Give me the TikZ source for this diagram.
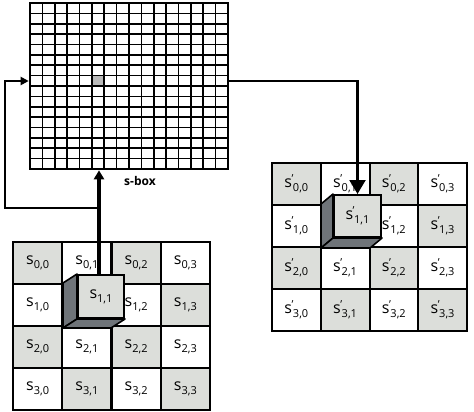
\documentclass[tikz,border=0pt]{standalone}
\usepackage{fontspec}
\setmainfont{Open Sans}
\usetikzlibrary{arrows.meta,calc}
\definecolor{cellgray}{HTML}{DCDEDA}
\definecolor{sidegray}{HTML}{6F7479}
\newcommand{\subf}{\fontsize{11}{11}\selectfont}
\newcommand{\slab}[2]{s\raisebox{-4pt}{\subf #1,#2}}
\newcommand{\slabp}[2]{s\kern-0.5pt\raisebox{4.5pt}{\subf'}\kern-0.5pt\raisebox{-4pt}{\subf #1,#2}}
\begin{document}
\begin{tikzpicture}[x=1pt,y=-1pt,
  cellbox/.style={draw=black,line width=2pt,minimum width=49pt,minimum height=42pt,inner sep=0pt,font=\fontsize{16}{16}\selectfont},
  cubeface/.style={draw=black,line width=2pt,fill=cellgray,inner sep=0pt,font=\fontsize{16}{16}\selectfont},
  cubeside/.style={draw=black,line width=1.6pt,fill=sidegray,line join=round},
  conn/.style={draw=black,line width=2.2pt},
  thickconn/.style={draw=black,line width=3.6pt}]
\useasboundingbox (0,0) rectangle (474,412);

% s-box
\node[draw=black,line width=2.6pt,minimum width=198pt,minimum height=166pt,inner sep=0pt] (sbox) at (129,86) {};
\fill[gray!55] (30+5*12.375,3+7*10.375) rectangle ++(12.375,10.375);
\foreach \k in {1,...,15}{
  \draw[line width=1.6pt] (30+\k*12.375,3) -- (30+\k*12.375,169);
  \draw[line width=1.6pt] (30,3+\k*10.375) -- (228,3+\k*10.375);
}
\draw[line width=2.6pt] (30,3) rectangle (228,169);
\node[font=\fontsize{12}{12}\selectfont\bfseries] (sboxlabel) at (140,181) {s-box};
\coordinate (row7) at (0,81);

% left state
\foreach \i in {0,...,3}{
  \foreach \j in {0,...,3}{
    \pgfmathtruncatemacro\pp{mod(\i+\j,2)}
    \ifnum\pp=0
      \node[cellbox,fill=cellgray] (a\i\j) at ({13+49.25*(\j+0.5)},{242+42*(\i+0.5)}) {\slab{\i}{\j}};
    \else
      \node[cellbox,fill=white] (a\i\j) at ({13+49.25*(\j+0.5)},{242+42*(\i+0.5)}) {\slab{\i}{\j}};
    \fi
  }
}
% left cube
\node[cubeface,minimum width=46pt,minimum height=43pt] (c11) at (101,296.5) {};
\draw[cubeside] (c11.north west) -- ++(-14,9) -- ($(c11.south west)+(-14,9)$) -- (c11.south west) -- cycle;
\draw[cubeside] (c11.south west) -- ++(-14,9) -- ($(c11.south east)+(-14,9)$) -- (c11.south east) -- cycle;
\node[cubeface,minimum width=46pt,minimum height=43pt] (c11f) at (101,296.5) {\raisebox{0.4ex}{\slab{1}{1}}};

% right state
\foreach \i in {0,...,3}{
  \foreach \j in {0,...,3}{
    \pgfmathtruncatemacro\pp{mod(\i+\j,2)}
    \ifnum\pp=0
      \node[cellbox,fill=cellgray,minimum width=48.75pt] (b\i\j) at ({272+48.75*(\j+0.5)},{163+42*(\i+0.5)}) {\slabp{\i}{\j}};
    \else
      \node[cellbox,fill=white,minimum width=48.75pt] (b\i\j) at ({272+48.75*(\j+0.5)},{163+42*(\i+0.5)}) {\slabp{\i}{\j}};
    \fi
  }
}
\node[cubeface,minimum width=47pt,minimum height=42pt] (d11) at (357.5,216) {};
\draw[cubeside] (d11.north west) -- ++(-12,10) -- ($(d11.south west)+(-12,10)$) -- (d11.south west) -- cycle;
\draw[cubeside] (d11.south west) -- ++(-12,10) -- ($(d11.south east)+(-12,10)$) -- (d11.south east) -- cycle;
\node[cubeface,minimum width=47pt,minimum height=42pt] (d11f) at (357.5,216) {\slabp{1}{1}};

% connectors
\coordinate (branch) at (99,208);
\coordinate (leftcorner) at (5,208);
\draw[thickconn,-{Triangle[length=9pt,width=10pt]}] (c11f.north -| branch) -- (branch |- sbox.south);
\draw[conn,-{Triangle[length=8pt,width=8pt]}] (branch) -- (leftcorner) -- (leftcorner |- row7) -- (sbox.west |- row7);
\draw[conn,-{Triangle[length=14pt,width=16pt]}] (sbox.east |- row7) -| (d11f.north);
\end{tikzpicture}
\end{document}
